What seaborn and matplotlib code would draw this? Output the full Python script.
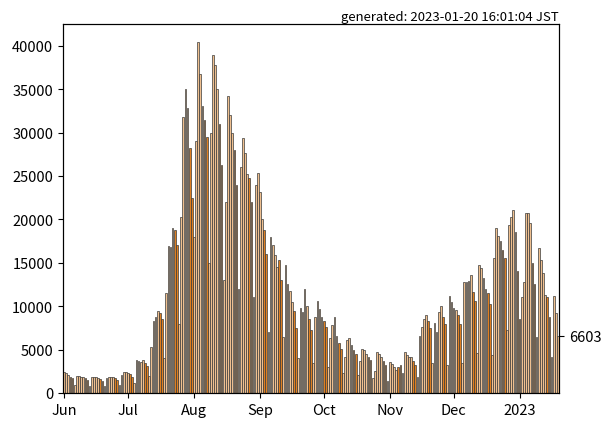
import matplotlib
matplotlib.use("Agg")
import matplotlib.pyplot as plt
import seaborn as sns
import pandas as pd

start_date = "2022-06-01"
weeks = [
    [2400,2300,2100,1900,1700,900,2000],
    [2000,1900,1800,1700,1500,800,1800],
    [1900,1800,1700,1600,1400,800,1700],
    [1900,1800,1800,1700,1500,900,2100],
    [2400,2400,2300,2200,1900,1200,3800],
    [3700,3600,3800,3500,3100,2000,5300],
    [8300,8700,9500,9200,8500,4000,11500],
    [16900,16800,19000,18800,17000,8000,20300],
    [31800,35000,32800,28200,22500,18000,29000],
    [40400,36700,33000,31500,29500,15000,30000],
    [38900,37800,35000,31000,26300,13000,22000],
    [34200,32000,30000,28000,24000,12000,26000],
    [29400,27600,25200,24800,22000,11000,24000],
    [25300,23200,20000,18800,16000,7000,18000],
    [17000,15900,14500,15300,13000,6500,14800],
    [12600,11800,10500,9500,7500,4000,9800],
    [9300,12000,10000,8500,7200,3500,8700],
    [10600,9700,8800,8300,7600,3000,6300],
    [7800,8800,6600,5800,5100,2300,4200],
    [6100,6300,5500,5000,4500,2100,3700],
    [5100,5000,4500,4200,3800,1700,2500],
    [4700,4500,4100,3700,3200,1400,3600],
    [3300,3000,2700,3000,3200,2300,4700],
    [4400,4200,4100,3700,3200,1900,6600],
    [7600,8500,9000,8300,7500,3500,8100],
    [7000,9300,10000,8700,7900,3200,11200],
    [10500,9800,9600,9000,8000,3500,12800],
    [12800,12900,13600,11600,10600,4600,14800],
    [14400,13200,12000,11500,10300,4400,15500],
    [19000,18100,17500,16500,15500,7200,19300],
    [20300,21100,18500,14000,8500,11000,12800],
    [20700,20700,19600,15000,12500,6500,16700],
    [15300,13800,11300,11000,8700,4200,11200],
    [9200,6603],
]
month_labels = ["Jun", "Jul", "Aug", "Sep", "Oct", "Nov", "Dec", "2023"]
month_starts = ["2022-06-01","2022-07-01","2022-08-01","2022-09-01","2022-10-01","2022-11-01","2022-12-01","2023-01-01"]

values = [v for w in weeks for v in w]
dates = pd.date_range(start_date, periods=len(values), freq="D")
df = pd.DataFrame({"idx": range(len(values)), "value": values,
                   "kind": ["weekend" if d.weekday() >= 5 else "weekday" for d in dates]})

plt.rcParams["font.family"] = ["Noto Sans CJK JP", "DejaVu Sans"]
fig = plt.figure(figsize=(6.14, 4.27), dpi=100)
ax = fig.add_axes([63/614, 1-394/427, (559-63)/614, (394-25)/427])
sns.barplot(data=df, x="idx", y="value", hue="kind", dodge=False, native_scale=True,
            palette={"weekday": "#ffc080", "weekend": "#ff7f00"},
            edgecolor="#3a3a3a", linewidth=0.5, width=0.8, legend=False, ax=ax)
ax.set_xlim(-0.5, len(values) - 0.5)
ax.set_ylim(0, 42500)
ticks = [(pd.Timestamp(m) - dates[0]).days for m in month_starts]
ax.set_xticks(ticks)
ax.set_xticklabels(month_labels)
ax.set_xlabel("")
ax.set_ylabel("")
ax.set_yticks(range(0, 40001, 5000))
ax.tick_params(labelsize=10.5)
ax2 = ax.twinx()
ax2.set_ylim(ax.get_ylim())
ax2.set_yticks([values[-1]])
ax2.set_yticklabels([str(values[-1])])
ax2.tick_params(labelsize=10.5)
ax.set_title("generated: 2023-01-20 16:01:04 JST", loc="right", fontsize=9.5, pad=3)
fig.savefig("out.png", dpi=100)
